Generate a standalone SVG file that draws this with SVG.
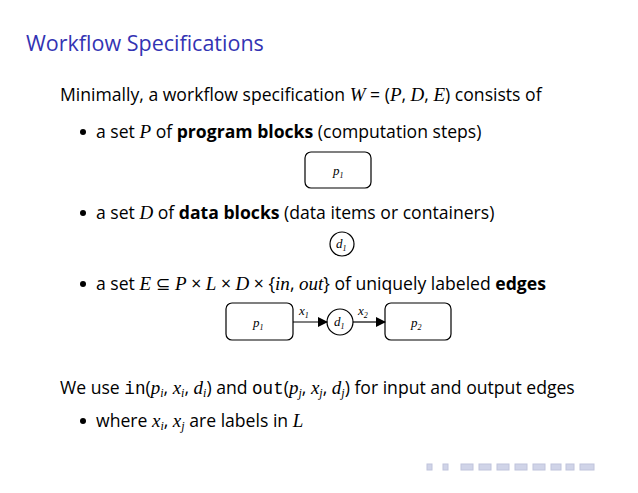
<svg xmlns="http://www.w3.org/2000/svg" width="638" height="493" viewBox="0 0 638 493">
<style>
.t{font-family:"Open Sans","DejaVu Sans",sans-serif;font-size:17.6px;fill:#000}
.m{font-family:"Liberation Serif",serif;font-style:italic;font-size:19px}
.n{font-family:"Liberation Serif",serif;font-style:italic;font-size:13px}
.s{font-size:8px}
.box{fill:#fff;stroke:#000;stroke-width:1.2}
.c{stroke:#000;stroke-width:1.2;fill:none}
.nav{fill:#d0d4e8;stroke:#c0c4dc}
</style>
<defs><marker id="ah" markerWidth="10" markerHeight="10" refX="9" refY="5" orient="auto" markerUnits="userSpaceOnUse"><path d="M0,0 L10,5 L0,10 z" fill="#000"/></marker></defs>
<rect width="638" height="493" fill="#fff"/>
<text x="26" y="51" font-family="'Open Sans','DejaVu Sans',sans-serif" font-size="21.5" fill="#3333b3">Workflow Specifications</text>
<text class="t" x="60" y="101">Minimally, a workflow specification <tspan class="m">W</tspan> = (<tspan class="m">P</tspan>, <tspan class="m">D</tspan>, <tspan class="m">E</tspan>) consists of</text>
<circle cx="83" cy="132" r="3" fill="#000"/>
<text class="t" x="96" y="138">a set <tspan class="m">P</tspan> of <tspan font-weight="bold">program blocks</tspan> (computation steps)</text>
<circle cx="83" cy="213" r="3" fill="#000"/>
<text class="t" x="96" y="219">a set <tspan class="m">D</tspan> of <tspan font-weight="bold">data blocks</tspan> (data items or containers)</text>
<circle cx="83" cy="284" r="3" fill="#000"/>
<text class="t" x="96" y="290">a set <tspan class="m">E</tspan> ⊆ <tspan class="m">P</tspan> × <tspan class="m">L</tspan> × <tspan class="m">D</tspan> × {<tspan class="m">in</tspan>, <tspan class="m">out</tspan>} of uniquely labeled <tspan font-weight="bold">edges</tspan></text>
<g id="p1top"><rect class="box" x="305" y="152" width="66" height="36" rx="6"/><text class="n" x="333" y="175">p<tspan class="s" dy="3">1</tspan></text></g>
<g id="d1top"><circle class="box" cx="342" cy="244" r="12"/><text class="n" x="336" y="248">d<tspan class="s" dy="3">1</tspan></text></g>
<g id="p1"><rect class="box" x="226" y="303" width="67" height="37" rx="6"/><text class="n" x="253" y="327">p<tspan class="s" dy="3">1</tspan></text></g>
<g id="d1"><circle class="box" cx="340" cy="322" r="13"/><text class="n" x="334" y="326">d<tspan class="s" dy="3">1</tspan></text></g>
<g id="p2"><rect class="box" x="385" y="303" width="66" height="37" rx="6"/><text class="n" x="411" y="327">p<tspan class="s" dy="3">2</tspan></text></g>
<g id="connectors">
<line class="c" x1="293" y1="322" x2="327" y2="322" marker-end="url(#ah)"/>
<line class="c" x1="353" y1="322" x2="385" y2="322" marker-end="url(#ah)"/>
<text class="n" x="299" y="315">x<tspan class="s" dy="3">1</tspan></text>
<text class="n" x="358" y="315">x<tspan class="s" dy="3">2</tspan></text>
</g>
<text class="t" x="60" y="394">We use <tspan font-family="'Liberation Mono',monospace">in</tspan>(<tspan class="m">p<tspan font-size="12" dy="3">i</tspan></tspan><tspan dy="-3">, </tspan><tspan class="m">x<tspan font-size="12" dy="3">i</tspan></tspan><tspan dy="-3">, </tspan><tspan class="m">d<tspan font-size="12" dy="3">i</tspan></tspan><tspan dy="-3">) and </tspan><tspan font-family="'Liberation Mono',monospace">out</tspan>(<tspan class="m">p<tspan font-size="12" dy="3">j</tspan></tspan><tspan dy="-3">, </tspan><tspan class="m">x<tspan font-size="12" dy="3">j</tspan></tspan><tspan dy="-3">, </tspan><tspan class="m">d<tspan font-size="12" dy="3">j</tspan></tspan><tspan dy="-3">) for input and output edges</tspan></text>
<circle cx="83" cy="421" r="3" fill="#000"/>
<text class="t" x="96" y="427">where <tspan class="m">x<tspan font-size="12" dy="3">i</tspan></tspan><tspan dy="-3">, </tspan><tspan class="m">x<tspan font-size="12" dy="3">j</tspan></tspan><tspan dy="-3"> are labels in </tspan><tspan class="m">L</tspan></text>
<g id="nav">
<rect class="nav" x="427" y="464" width="5" height="6"/><rect class="nav" x="443" y="464" width="5" height="6"/>
<rect class="nav" x="461" y="464" width="12" height="6"/><rect class="nav" x="479" y="464" width="12" height="6"/>
<rect class="nav" x="497" y="464" width="12" height="6"/><rect class="nav" x="515" y="464" width="12" height="6"/>
<rect class="nav" x="533" y="464" width="12" height="6"/><rect class="nav" x="551" y="464" width="10" height="6"/>
<rect class="nav" x="566" y="464" width="8" height="6"/><rect class="nav" x="580" y="464" width="14" height="6"/>
</g>
</svg>
